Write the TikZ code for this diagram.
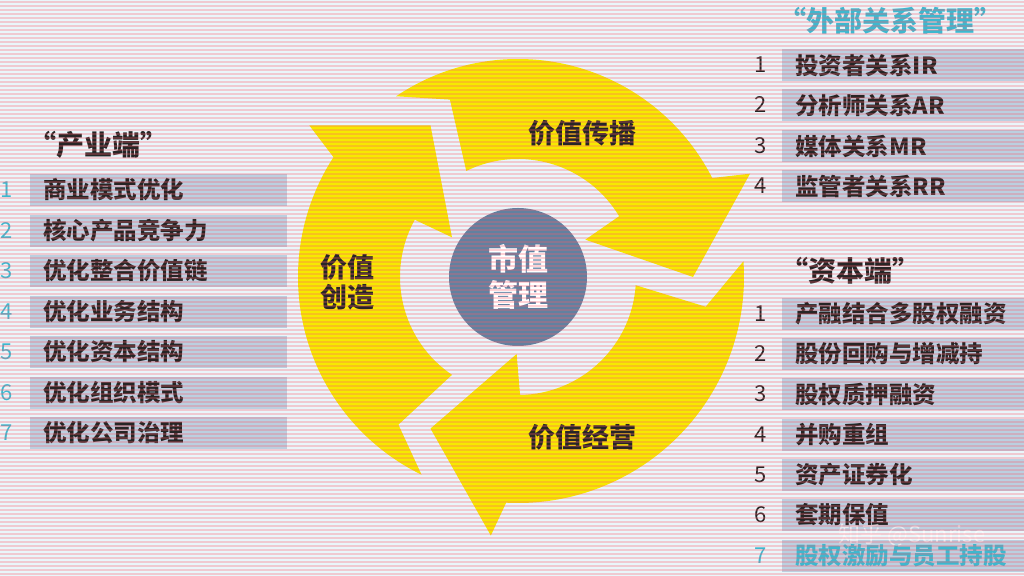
\documentclass[tikz,border=0pt]{standalone}
\usepackage{fontspec}
\setmainfont{Noto Sans CJK SC}
\usetikzlibrary{positioning}

\definecolor{bgcyan}{HTML}{E9F6FA}
\definecolor{arwyel}{HTML}{F6EA00}
\definecolor{boxblue}{HTML}{BBD0E0}
\definecolor{hubgray}{HTML}{6181A0}
\definecolor{numcyan}{HTML}{3DB8CF}
\definecolor{txtdark}{HTML}{262626}
\definecolor{scanred}{HTML}{FF5A6A}

\begin{document}
\begin{tikzpicture}[
  x=0.5pt, y=-0.5pt,
  arw/.style={fill=arwyel},
  itembox/.style={fill=boxblue, anchor=west, text width=#1, align=left,
    minimum height=16pt, inner xsep=6.5pt, inner ysep=0pt, text=txtdark,
    font=\fontsize{11.75pt}{14pt}\selectfont\bfseries},
  num/.style={text=txtdark, inner sep=0pt, font=\fontsize{11pt}{13pt}\selectfont},
  head/.style={anchor=west, inner sep=0pt, text=txtdark,
    font=\fontsize{14pt}{16pt}\selectfont\bfseries},
  lbl/.style={text=txtdark, align=center, font=\fontsize{13.5pt}{15pt}\selectfont\bfseries},
  scan/.style={fill=scanred, opacity=0.28},
]

\useasboundingbox (0,0) rectangle (1024,576);
\fill [bgcyan] (0,0) rectangle (1024,576);

\begin{scope}[shift={(518,277)}]
\fill [arw] (0:175) -- (-24:254) -- (-27:218) arc [start angle=-27, end angle=-124, radius=218]
  -- (-111:190) -- (-116:118) arc [start angle=-116, end angle=-31, radius=118] -- (-29:77) -- cycle;
\fill [arw] (-120:175) -- (-144:258) -- (-147:220) arc [start angle=-147, end angle=-244, radius=220]
  -- (-231:190) -- (-236:118) arc [start angle=-236, end angle=-151, radius=118] -- (-149:77) -- cycle;
\fill [arw] (120:175) -- (96:260) -- (93:226) arc [start angle=93, end angle=-4, radius=226]
  -- (9:190) -- (4:118) arc [start angle=4, end angle=89, radius=118] -- (91:77) -- cycle;
\end{scope}

\node [circle, fill=hubgray, minimum size=69pt, text=white, align=center,
  font=\fontsize{15pt}{18pt}\selectfont\bfseries] (hub) at (518,277) {市值\\管理};
\node [lbl] (spread) at (582,133) {价值传播};
\node [lbl] (operate) at (582,437) {价值经营};
\node [lbl] (create) at (347,282) {价值\\创造};

\node [head] (indhead) at (28,145) {“产业端”};
\node [itembox=115.5pt] (ind1) at (30,190) {商业模式优化};
\node [itembox=115.5pt] (ind2) at (30,231) {核心产品竞争力};
\node [itembox=115.5pt] (ind3) at (30,271) {优化整合价值链};
\node [itembox=115.5pt] (ind4) at (30,312) {优化业务结构};
\node [itembox=115.5pt] (ind5) at (30,352) {优化资本结构};
\node [itembox=115.5pt] (ind6) at (30,393) {优化组织模式};
\node [itembox=115.5pt] (ind7) at (30,433) {优化公司治理};
\node [num, text=numcyan, left=8.5pt of ind1] (nind1) {1};
\node [num, text=numcyan, left=8.5pt of ind2] (nind2) {2};
\node [num, text=numcyan, left=8.5pt of ind3] (nind3) {3};
\node [num, text=numcyan, left=8.5pt of ind4] (nind4) {4};
\node [num, text=numcyan, left=8.5pt of ind5] (nind5) {5};
\node [num, text=numcyan, left=8.5pt of ind6] (nind6) {6};
\node [num, text=numcyan, left=8.5pt of ind7] (nind7) {7};

\node [head, text=numcyan] (exthead) at (778,21) {“外部关系管理”};
\node [itembox=112pt] (ext1) at (782,65) {投资者关系IR};
\node [itembox=112pt] (ext2) at (782,105) {分析师关系AR};
\node [itembox=112pt] (ext3) at (782,146) {媒体关系MR};
\node [itembox=112pt] (ext4) at (782,186) {监管者关系RR};
\node [num, left=7.5pt of ext1] (next1) {1};
\node [num, left=7.5pt of ext2] (next2) {2};
\node [num, left=7.5pt of ext3] (next3) {3};
\node [num, left=7.5pt of ext4] (next4) {4};

\node [head] (caphead) at (780,271) {“资本端”};
\node [itembox=112pt] (cap1) at (782,314) {产融结合多股权融资};
\node [itembox=112pt] (cap2) at (782,354) {股份回购与增减持};
\node [itembox=112pt] (cap3) at (782,394) {股权质押融资};
\node [itembox=112pt] (cap4) at (782,435) {并购重组};
\node [itembox=112pt] (cap5) at (782,475) {资产证券化};
\node [itembox=112pt] (cap6) at (782,515) {套期保值};
\node [itembox=112pt, text=numcyan] (cap7) at (782,556) {股权激励与员工持股};
\node [num, left=7.5pt of cap1] (ncap1) {1};
\node [num, left=7.5pt of cap2] (ncap2) {2};
\node [num, left=7.5pt of cap3] (ncap3) {3};
\node [num, left=7.5pt of cap4] (ncap4) {4};
\node [num, left=7.5pt of cap5] (ncap5) {5};
\node [num, left=7.5pt of cap6] (ncap6) {6};
\node [num, text=numcyan, left=7.5pt of cap7] (ncap7) {7};

\node [text=white, opacity=0.6, font=\fontsize{11pt}{13pt}\selectfont] (wmark) at (912,535) {知乎 @Sunrise};

\foreach \s in {0,4,...,572}
  \fill [scan] (0,\s+1) rectangle (1024,\s+2.6);

\end{tikzpicture}
\end{document}
